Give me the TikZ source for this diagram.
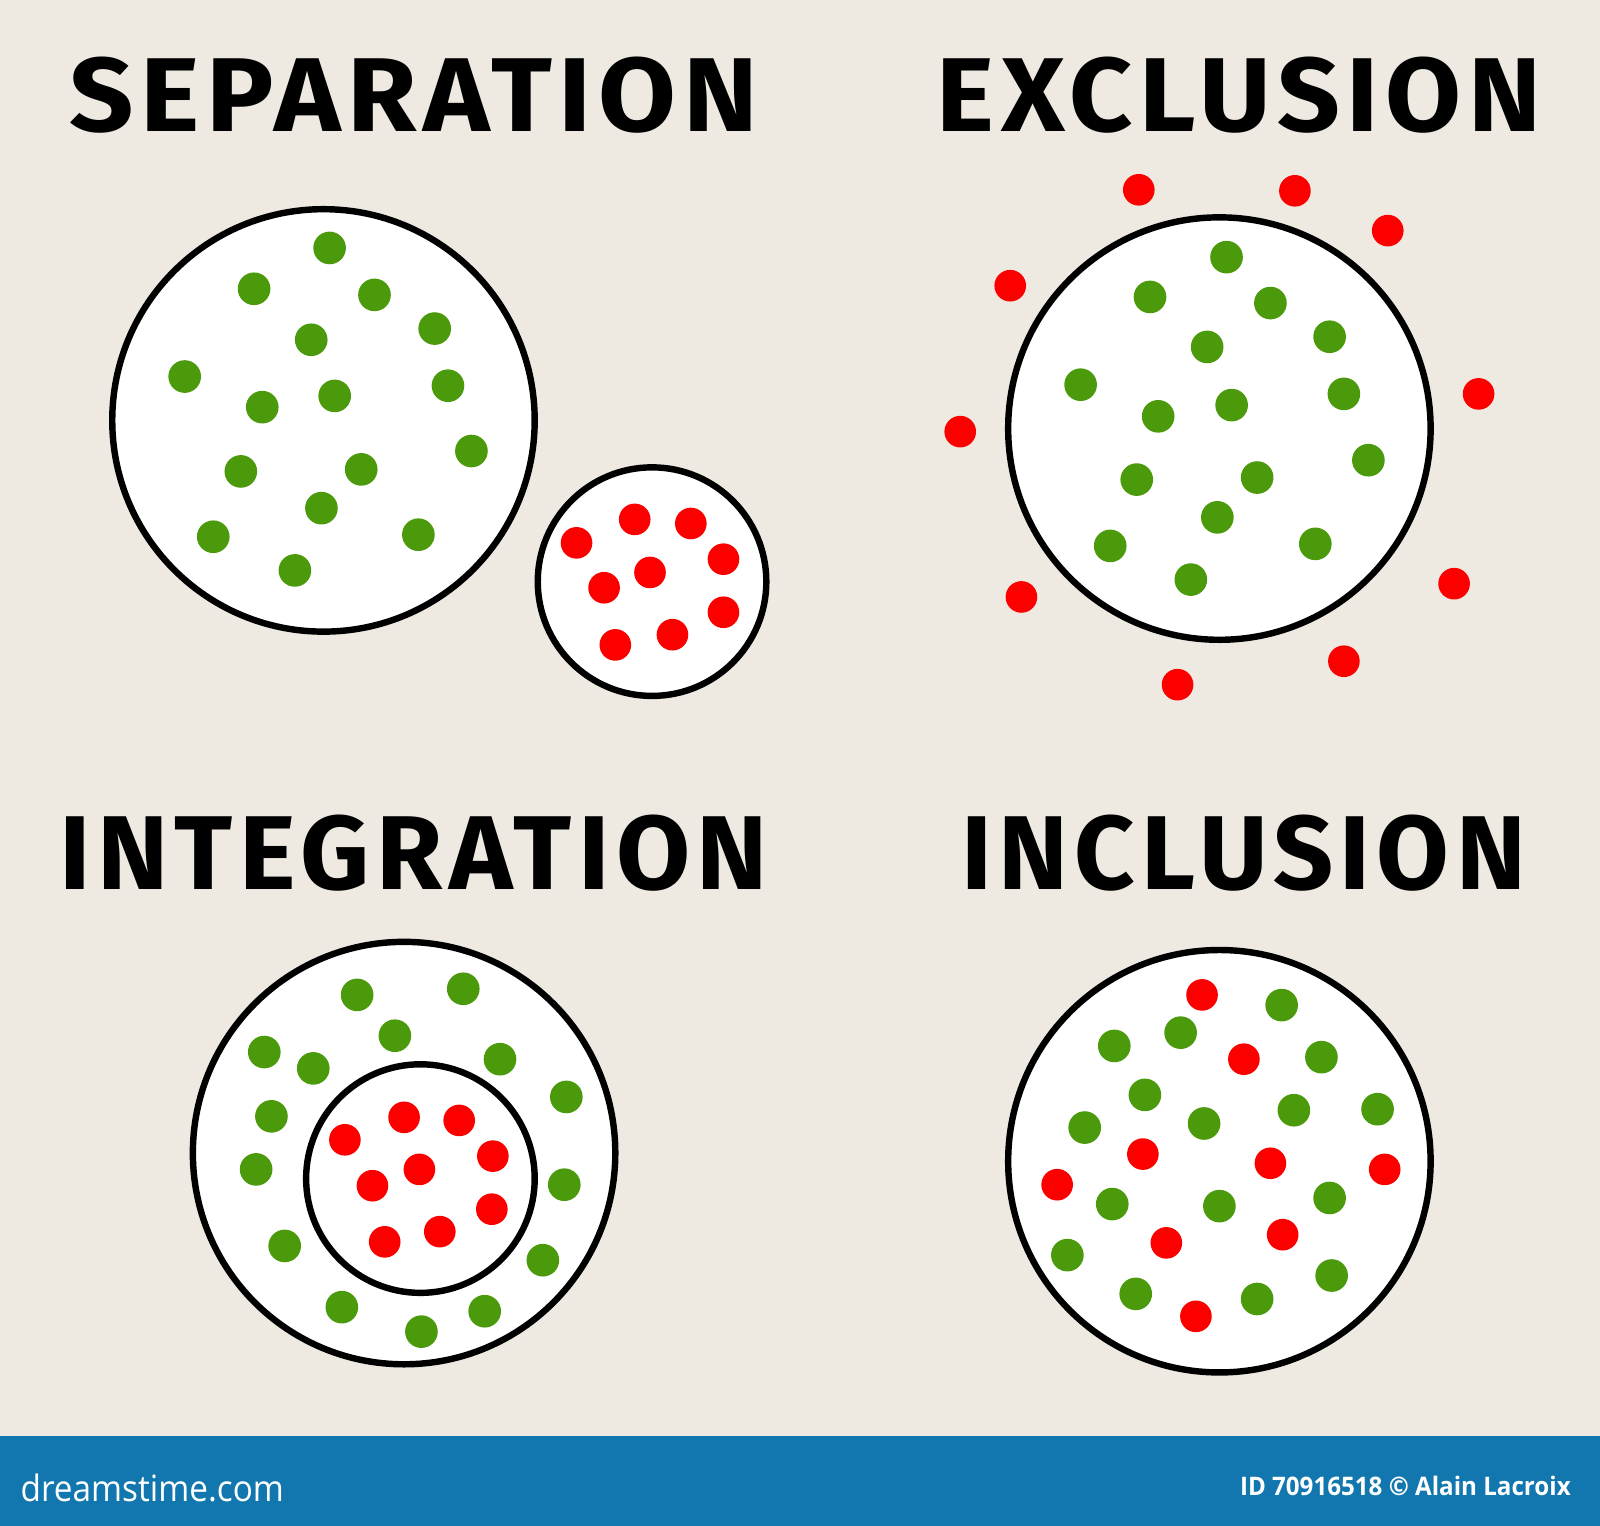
\documentclass[tikz,border=0pt]{standalone}
\usepackage{fontspec}
\setmainfont{TeX Gyre Heros}
\newfontfamily\titlefont[LetterSpace=6]{Fira Sans}
\newfontfamily\barfont{Open Sans}
\definecolor{bgc}{HTML}{EEEAE2}
\definecolor{barc}{HTML}{1177AE}
\definecolor{dotg}{HTML}{4B9A0B}
\definecolor{dotr}{HTML}{FC0000}
\tikzset{
  ring/.style={circle, draw=black, line width=6.3pt, fill=white, inner sep=0pt, minimum size=#1},
  gdot/.style={circle, fill=dotg, inner sep=0pt, minimum size=32pt},
  rdot/.style={circle, fill=dotr, inner sep=0pt, minimum size=31pt},
  title/.style={inner sep=0pt, anchor=north west, font=\titlefont\bfseries},
}
\begin{document}
\begin{tikzpicture}[x=1pt,y=-1pt]
\fill[bgc] (0,0) rectangle (1568,1495);
\useasboundingbox (0,0) rectangle (1568,1495);
% bottom bar
\fill[barc] (0,1407) rectangle (1568,1495);
\node[inner sep=0pt, anchor=north west, text=white] (logo) at (20,1444) {\resizebox{258pt}{27pt}{\barfont dreamstime.com}};
\node[inner sep=0pt, anchor=north west, text=white] (credit) at (1215,1446) {\resizebox{324pt}{19pt}{\barfont\bfseries ID 70916518 © Alain Lacroix}};
% titles
\node[title] (t1) at (68,56) {\resizebox{674pt}{73pt}{SEPARATION}};
\node[title] (t2) at (918,56) {\resizebox{592pt}{73pt}{EXCLUSION}};
\node[title] (t3) at (58,798) {\resizebox{694pt}{73pt}{INTEGRATION}};
\node[title] (t4) at (942,798) {\resizebox{553pt}{73pt}{INCLUSION}};
% SEPARATION
\node[ring=414pt] (sepbig) at (317,412) {};
\node[ring=224pt] (sepsmall) at (639,570) {};
\foreach \x/\y [count=\i] in {323/243,249/283,367/289,426/322,305/333,181/369,439/378,328/388,257/399,462/442,236/462,354/460,315/498,209/526,410/524,289/559}
  \node[gdot] (sg\i) at (\x,\y) {};
\foreach \x/\y [count=\i] in {622/509,677/513,565/532,709/548,637/561,592/576,709/600,659/622,603/632}
  \node[rdot] (sr\i) at (\x,\y) {};
% EXCLUSION
\node[ring=414pt] (exc) at (1195,420) {};
\foreach \x/\y [count=\i] in {1202/252,1127/291,1245/297,1303/330,1183/340,1059/377,1317/386,1207/397,1135/408,1341/451,1114/470,1232/468,1193/507,1088/535,1289/533,1167/568}
  \node[gdot] (eg\i) at (\x,\y) {};
\foreach \x/\y [count=\i] in {1116/186,1269/187,1360/226,990/280,1449/386,941/423,1425/572,1001/585,1317/648,1154/671}
  \node[rdot] (er\i) at (\x,\y) {};
% INTEGRATION
\node[ring=414pt] (intout) at (396,1130) {};
\node[ring=224pt] (intin) at (412,1155) {};
\foreach \x/\y [count=\i] in {350/975,454/969,259/1031,387/1015,307/1047,490/1038,555/1075,266/1094,251/1146,553/1161,279/1221,532/1235,335/1281,475/1285,413/1305}
  \node[gdot] (ig\i) at (\x,\y) {};
\foreach \x/\y [count=\i] in {396/1095,450/1098,338/1117,483/1133,411/1146,365/1162,482/1185,431/1207,377/1217}
  \node[rdot] (ir\i) at (\x,\y) {};
% INCLUSION
\node[ring=414pt] (inc) at (1195,1138) {};
\foreach \x/\y [count=\i] in {1256/985,1092/1025,1157/1012,1295/1036,1122/1073,1268/1088,1350/1087,1063/1105,1180/1101,1090/1180,1195/1182,1303/1174,1046/1230,1113/1268,1232/1273,1305/1250}
  \node[gdot] (ng\i) at (\x,\y) {};
\foreach \x/\y [count=\i] in {1178/975,1219/1038,1120/1131,1245/1140,1357/1146,1036/1161,1143/1218,1257/1210,1172/1290}
  \node[rdot] (nr\i) at (\x,\y) {};
\end{tikzpicture}
\end{document}
